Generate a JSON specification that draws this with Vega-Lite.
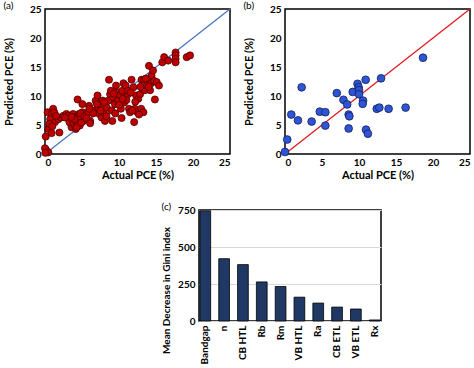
{
  "$schema": "https://vega.github.io/schema/vega-lite/v6.json",
  "padding": {"left": 2, "top": 0, "right": 0, "bottom": 0},
  "config": {
    "font": "Lato",
    "view": {"stroke": "black", "strokeWidth": 1.5},
    "axis": {"labelFont": "Lato", "labelFontWeight": "bold", "labelFontSize": 10, "labelColor": "black", "titleFont": "Lato", "titleFontWeight": "bold", "titleFontSize": 11, "titleColor": "black", "ticks": false, "domain": false, "grid": false, "labelPadding": 4, "titlePadding": 6},
    "axisX": {"titlePadding": 2, "labelPadding": 3},
    "title": {"font": "Lato", "fontSize": 10, "fontWeight": "normal", "anchor": "start", "frame": "bounds", "color": "black"}
  },
  "datasets": {
    "trainA": [
      {"x":0.1,"y":0.75},{"x":0.2,"y":0.5},{"x":0.35,"y":0.3},{"x":0,"y":1},{"x":0.45,"y":0.3},{"x":0.05,"y":0.2},
      {"x":0.1,"y":3.0},{"x":0.45,"y":4.3},{"x":0.35,"y":7.2},{"x":0.9,"y":6.9},{"x":0.7,"y":6.0},{"x":1.1,"y":7.8},{"x":1.25,"y":7.2},{"x":0.9,"y":3.6},{"x":1.35,"y":5.5},{"x":0.6,"y":5.2},{"x":1.0,"y":4.8},
      {"x":1.8,"y":6.0},{"x":1.95,"y":3.7},{"x":2.15,"y":6.3},{"x":2.5,"y":6.6},{"x":2.9,"y":6.9},{"x":3.1,"y":6.6},{"x":3.4,"y":6.0},{"x":3.5,"y":5.2},{"x":3.6,"y":4.6},{"x":3.8,"y":6.9},{"x":4.05,"y":6.3},{"x":4.05,"y":4.9},{"x":4.15,"y":4.3},{"x":4.4,"y":9.4},{"x":4.5,"y":5.7},{"x":4.6,"y":6.9},{"x":4.7,"y":4.9},{"x":4.85,"y":6.3},{"x":5.05,"y":8.6},{"x":5.05,"y":7.2},{"x":5.2,"y":5.7},
      {"x":3.3,"y":5.5},{"x":3.7,"y":5.8},{"x":3.9,"y":5.3},{"x":4.2,"y":5.6},{"x":4.3,"y":4.6},{"x":4.5,"y":6.3},{"x":4.9,"y":5.4},{"x":4.0,"y":6.0},{"x":3.6,"y":6.4},{"x":4.8,"y":7.0},{"x":2.7,"y":6.3},{"x":1.5,"y":6.6},{"x":5.3,"y":6.5},
      {"x":5.85,"y":7.2},{"x":5.95,"y":8.3},{"x":6.1,"y":5.7},{"x":6.1,"y":5.3},{"x":6.75,"y":7.5},{"x":6.85,"y":9.2},{"x":7.1,"y":10.1},{"x":7.2,"y":8.0},{"x":7.35,"y":6.9},{"x":7.45,"y":8.6},{"x":7.65,"y":6.3},{"x":7.8,"y":9.2},{"x":7.95,"y":7.2},{"x":8.1,"y":5.7},{"x":8.35,"y":8.0},{"x":8.55,"y":9.2},{"x":8.65,"y":12.8},{"x":8.8,"y":10.3},{"x":8.9,"y":10.9},{"x":9.0,"y":7.5},{"x":9.1,"y":5.7},{"x":9.25,"y":9.8},{"x":9.45,"y":8.6},{"x":9.6,"y":11.8},{"x":9.7,"y":10.6},{"x":9.9,"y":9.2},{"x":10.15,"y":10.1},{"x":10.25,"y":7.8},{"x":10.35,"y":6.2},{"x":10.45,"y":10.9},{"x":10.6,"y":12.2},{"x":10.7,"y":8.9},{"x":10.8,"y":9.8},{"x":10.9,"y":11.8},{"x":11.2,"y":10.3},{"x":11.25,"y":10.9},{"x":11.35,"y":7.8},{"x":11.5,"y":7.2},{"x":11.7,"y":12.8},{"x":11.95,"y":11.5},{"x":12.05,"y":5.5},{"x":12.15,"y":7.8},{"x":12.3,"y":10.1},{"x":12.5,"y":7.2},{"x":12.6,"y":9.5},{"x":12.85,"y":10.3},{"x":13.0,"y":7.8},{"x":13.05,"y":12.8},{"x":13.2,"y":11.2},{"x":13.3,"y":7.2},{"x":13.4,"y":12.8},{"x":13.5,"y":11.0},{"x":13.75,"y":11.8},{"x":13.95,"y":12.9},{"x":14.05,"y":15.2},{"x":14.2,"y":11.0},{"x":14.35,"y":12.2},{"x":14.4,"y":13.5},{"x":14.6,"y":14.4},{"x":14.75,"y":12.6},{"x":14.85,"y":9.4},{"x":15.1,"y":12.4},{"x":15.4,"y":11.8},{"x":15.85,"y":15.8},{"x":16.1,"y":16.7},{"x":16.65,"y":16.1},{"x":17.65,"y":17.5},{"x":17.65,"y":17.0},{"x":17.65,"y":16.4},{"x":17.65,"y":15.8},{"x":19.15,"y":16.7},{"x":19.6,"y":17.0},
      {"x":7.0,"y":8.6},{"x":8.0,"y":8.9},{"x":8.3,"y":6.5},{"x":9.5,"y":7.0},{"x":10.0,"y":8.5},{"x":11.0,"y":9.3},{"x":11.8,"y":7.5},{"x":12.7,"y":6.8},{"x":12.2,"y":9.0},{"x":6.5,"y":7.0},{"x":7.5,"y":7.5},{"x":9.3,"y":10.4},{"x":10.5,"y":9.5},{"x":11.6,"y":10.6},{"x":12.9,"y":11.6},{"x":14.0,"y":11.6},{"x":13.6,"y":13.0},{"x":5.6,"y":6.2},{"x":6.0,"y":7.8}
    ],
    "testB": [
      {"x":0,"y":0.35},{"x":0.3,"y":2.5},{"x":0.85,"y":6.8},{"x":1.75,"y":5.8},{"x":2.25,"y":11.5},{"x":3.6,"y":5.6},{"x":4.7,"y":7.3},{"x":5.45,"y":7.2},{"x":5.45,"y":4.9},{"x":7.0,"y":10.5},{"x":7.9,"y":9.35},{"x":8.4,"y":8.55},{"x":8.6,"y":6.8},{"x":8.7,"y":6.5},{"x":8.6,"y":4.4},{"x":9.15,"y":10.7},{"x":9.8,"y":12.1},{"x":9.95,"y":11.5},{"x":10.0,"y":11.0},{"x":10.0,"y":10.3},{"x":10.55,"y":9.2},{"x":10.5,"y":8.65},{"x":10.9,"y":12.8},{"x":10.95,"y":4.2},{"x":11.2,"y":3.5},{"x":12.4,"y":7.8},{"x":12.75,"y":8.0},{"x":12.98,"y":13.05},{"x":14.0,"y":7.8},{"x":16.3,"y":8.0},{"x":18.65,"y":16.6}
    ],
    "diag": [{"x":0,"y":0},{"x":25,"y":25}],
    "gini": [
      {"feature":"Bandgap","value":745},{"feature":"n","value":421},{"feature":"CB HTL","value":381},{"feature":"Rb","value":264},{"feature":"Rm","value":233},{"feature":"VB HTL","value":161},{"feature":"Ra","value":121},{"feature":"CB ETL","value":94},{"feature":"VB ETL","value":81},{"feature":"Rx","value":7}
    ]
  },
  "spacing": 20,
  "vconcat": [
    {
      "spacing": 8,
      "hconcat": [
        {
          "width": 185, "height": 145,
          "title": {"text": "(a)", "offset": -7},
          "encoding": {
            "x": {"field": "x", "type": "quantitative", "scale": {"domain": [0, 25], "nice": false}, "axis": {"values": [0,5,10,15,20,25], "title": "Actual PCE (%)"}},
            "y": {"field": "y", "type": "quantitative", "scale": {"domain": [0, 25], "nice": false}, "axis": {"values": [0,5,10,15,20,25], "title": "Predicted PCE (%)", "titlePadding": 15}}
          },
          "layer": [
            {"data": {"name": "diag"}, "mark": {"type": "line", "color": "#4472c4", "strokeWidth": 1.2}},
            {"data": {"name": "trainA"}, "mark": {"type": "circle", "size": 50, "fill": "#c00000", "stroke": "#4d0000", "strokeWidth": 0.8, "opacity": 1}}
          ]
        },
        {
          "width": 185, "height": 145,
          "title": {"text": "(b)", "offset": -7},
          "encoding": {
            "x": {"field": "x", "type": "quantitative", "scale": {"domain": [0, 25], "nice": false}, "axis": {"values": [0,5,10,15,20,25], "title": "Actual PCE (%)"}},
            "y": {"field": "y", "type": "quantitative", "scale": {"domain": [0, 25], "nice": false}, "axis": {"values": [0,5,10,15,20,25], "title": "Predicted PCE (%)", "titlePadding": 15}}
          },
          "layer": [
            {"data": {"name": "diag"}, "mark": {"type": "line", "color": "#e0141c", "strokeWidth": 1.2}},
            {"data": {"name": "testB"}, "mark": {"type": "circle", "size": 60, "fill": "#2f55d4", "stroke": "#101f60", "strokeWidth": 0.8, "opacity": 1}}
          ]
        }
      ]
    },
    {
      "spacing": 0,
      "hconcat": [
        {
          "width": 115, "height": 10,
          "view": {"stroke": null},
          "data": {"values": [{"a": 1}]},
          "mark": {"type": "point", "opacity": 0},
          "encoding": {}
        },
        {
          "width": 182, "height": 111,
          "title": {"text": "(c)", "offset": -7},
          "data": {"name": "gini"},
          "mark": {"type": "bar", "fill": "#203864", "stroke": "black", "strokeWidth": 0.8},
          "encoding": {
            "x": {"field": "feature", "type": "nominal", "sort": null, "scale": {"paddingInner": 0.43, "paddingOuter": 0.05}, "axis": {"title": null, "labelAngle": -90, "labelFontSize": 10, "labelPadding": 4}},
            "y": {"field": "value", "type": "quantitative", "scale": {"domain": [0, 750], "nice": false}, "axis": {"values": [0, 250, 500, 750], "grid": true, "gridColor": "#d9d9d9", "gridWidth": 1, "title": "Mean Decrease in Gini index", "titleFontSize": 10, "titleY": 80}}
          }
        }
      ]
    }
  ]
}
